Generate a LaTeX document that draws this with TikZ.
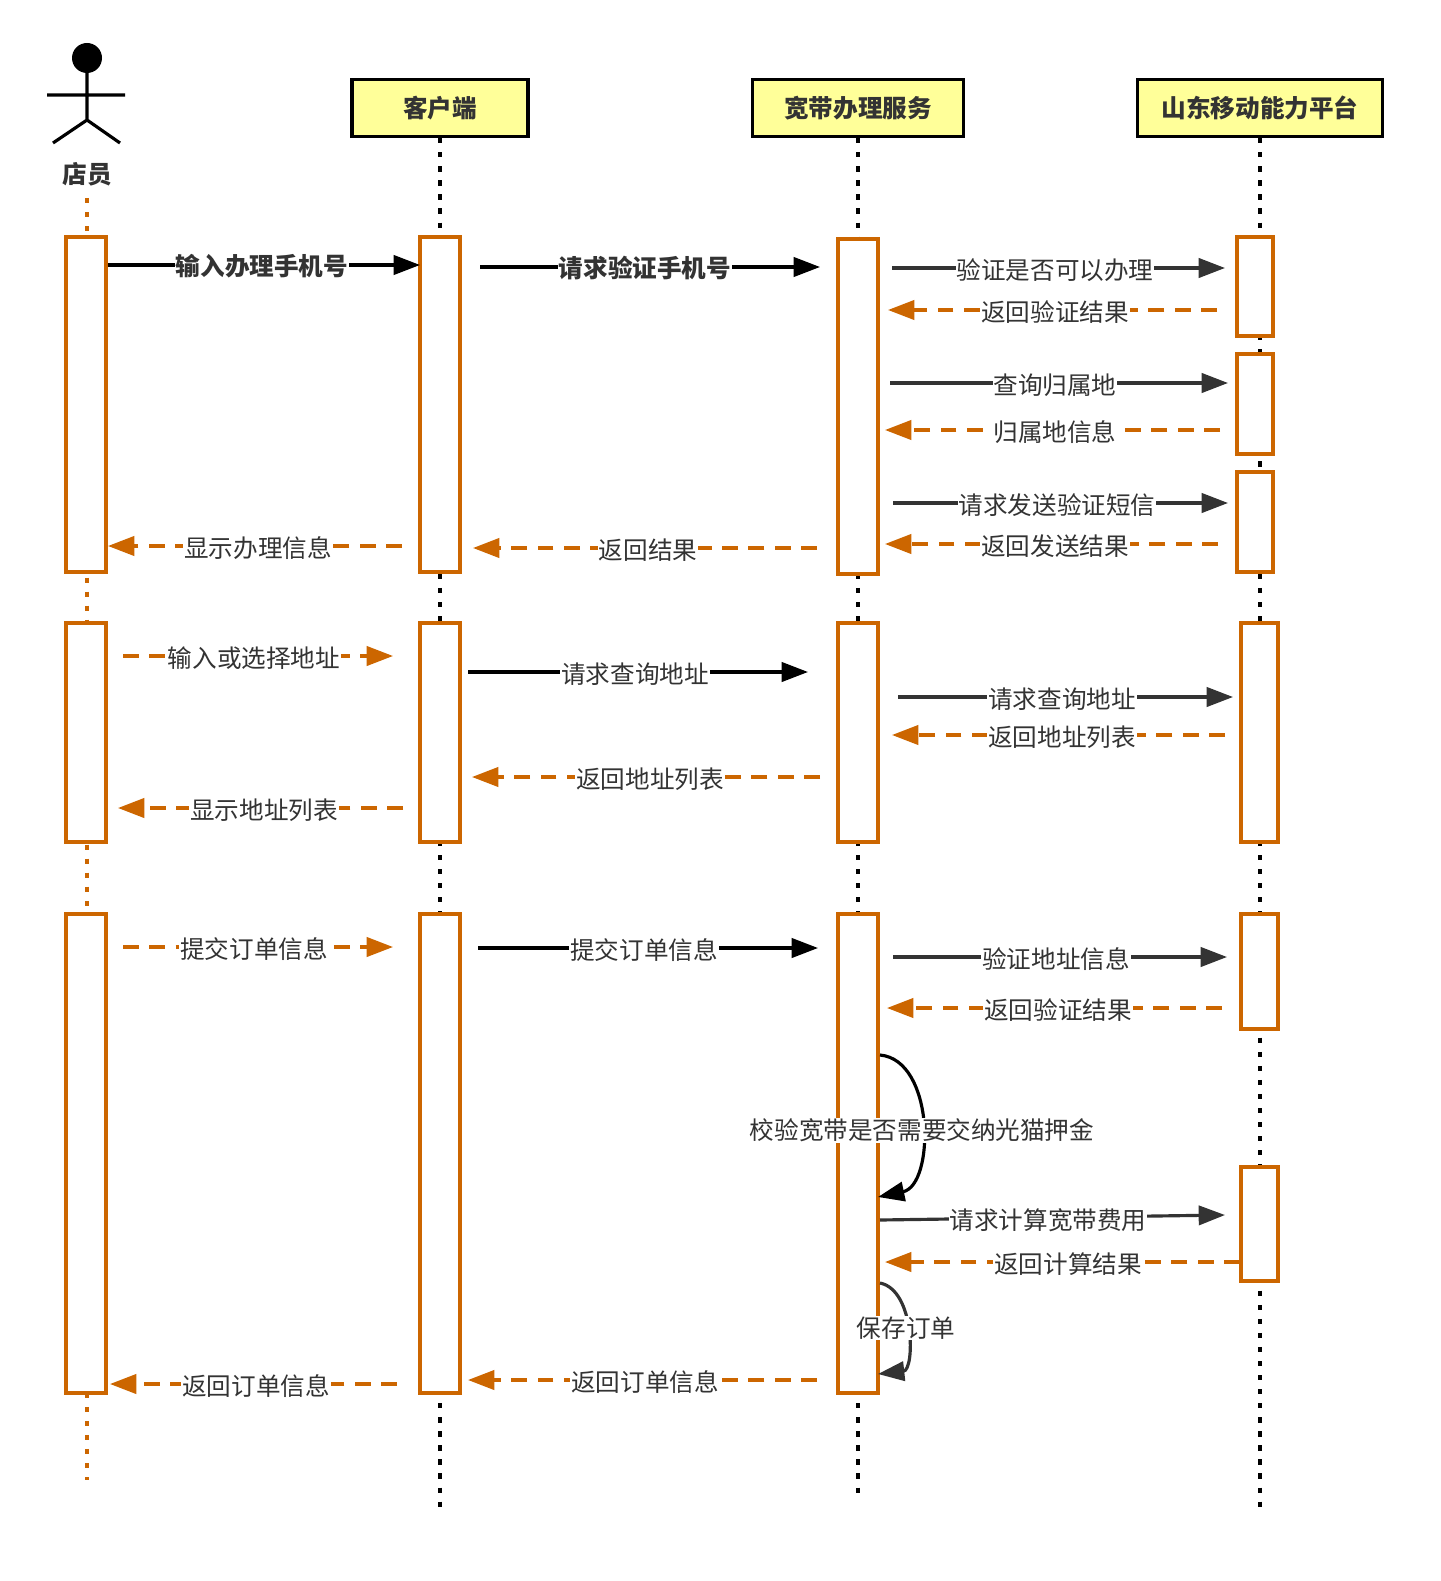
\documentclass[tikz,border=0pt]{standalone}
\usepackage{fontspec}
\setmainfont{Noto Sans CJK SC}
\usetikzlibrary{arrows.meta}
\definecolor{org}{HTML}{CC6600}
\definecolor{dk}{HTML}{333333}
\tikzset{
 act/.style={draw=org,line width=1.9pt,fill=white},
 head/.style={draw=black,line width=1.9pt,fill={rgb,255:red,255;green,255;blue,153},font=\bfseries\fontsize{14}{16}\selectfont,text=dk},
 life/.style={line width=1.9pt,dash pattern=on 3pt off 5pt},
 msg/.style={line width=1.8pt,draw=black,-{Triangle[length=15pt,width=11pt]}},
 msgg/.style={line width=1.8pt,draw=dk,-{Triangle[length=15pt,width=11pt]}},
 ret/.style={line width=1.8pt,draw=org,dash pattern=on 9pt off 6pt,-{Triangle[length=15pt,width=11pt,fill=org]}},
 lbl/.style={fill=white,inner sep=0.5pt,text=dk,font=\fontsize{14}{16}\selectfont},
 blbl/.style={lbl,font=\bfseries\fontsize{14}{16}\selectfont},
}
\begin{document}
\begin{tikzpicture}[x=0.02cm,y=-0.02cm]
\useasboundingbox (0,0) rectangle (1440,1581);
% actor
\fill (87,58) circle (15);
\draw[line width=1.8pt] (87,58)--(87,122) (47,95)--(125,95) (53,143)--(87,120)--(120,143);
\node[font=\bfseries\fontsize{14}{16}\selectfont,text=dk] (actor) at (87,174) {店员};
% headers
\node[head,minimum width=176*0.02cm,minimum height=57*0.02cm] (cli) at (440,108) {客户端};
\node[head,minimum width=211*0.02cm,minimum height=57*0.02cm] (bb) at (858,108) {宽带办理服务};
\node[head,minimum width=245*0.02cm,minimum height=57*0.02cm] (pf) at (1260,108) {山东移动能力平台};
% lifelines
\coordinate (aend) at (87,1480);
\coordinate (cend) at (440,1515);
\coordinate (bend) at (858,1500);
\coordinate (pend) at (1260,1515);
\draw[life,draw=org] (87,198)--(aend);
\draw[life] (cli.south)--(cend);
\draw[life] (bb.south)--(bend);
\draw[life] (pf.south)--(pend);
% activations
\foreach \x in {86,440} {
 \draw[act] (\x-20,237) rectangle (\x+20,572);
 \draw[act] (\x-20,623) rectangle (\x+20,842);
 \draw[act] (\x-20,914) rectangle (\x+20,1393);}
\draw[act] (838,239) rectangle (878,574);
\draw[act] (838,623) rectangle (878,842);
\draw[act] (838,914) rectangle (878,1393);
\draw[act] (1237,237) rectangle (1273,336);
\draw[act] (1237,354) rectangle (1273,454);
\draw[act] (1237,472) rectangle (1273,572);
\draw[act] (1241,623) rectangle (1278,842);
\draw[act] (1241,914) rectangle (1278,1029);
\draw[act] (1241,1167) rectangle (1278,1281);
% messages
\draw[msg] (108,265)--(420,265); \node[blbl] at (262,266) {输入办理手机号};
\draw[msg] (480,267)--(820,267); \node[blbl] at (645,268) {请求验证手机号};
\draw[msgg] (892,268)--(1225,268); \node[lbl] at (1055,270) {验证是否可以办理};
\draw[ret] (1217,310)--(888,310); \node[lbl] at (1055,312) {返回验证结果};
\draw[msgg] (890,383)--(1228,383); \node[lbl] at (1055,385) {查询归属地};
\draw[ret] (1220,430)--(885,430); \node[lbl] at (1055,432) {归属地信息};
\draw[msgg] (893,503)--(1228,503); \node[lbl] at (1057,505) {请求发送验证短信};
\draw[ret] (1218,544)--(885,544); \node[lbl] at (1055,546) {返回发送结果};
\draw[ret] (402,546)--(108,546); \node[lbl] at (258,548) {显示办理信息};
\draw[ret] (817,548)--(473,548); \node[lbl] at (648,550) {返回结果};
\draw[ret] (123,656)--(393,656); \node[lbl] at (254,658) {输入或选择地址};
\draw[msg] (468,672)--(808,672); \node[lbl] at (635,674) {请求查询地址};
\draw[msgg] (898,697)--(1233,697); \node[lbl] at (1062,699) {请求查询地址};
\draw[ret] (1225,735)--(892,735); \node[lbl] at (1062,737) {返回地址列表};
\draw[ret] (820,777)--(472,777); \node[lbl] at (650,779) {返回地址列表};
\draw[ret] (403,808)--(118,808); \node[lbl] at (264,810) {显示地址列表};
\draw[ret] (123,947)--(393,947); \node[lbl] at (254,949) {提交订单信息};
\draw[msg] (478,948)--(818,948); \node[lbl] at (644,950) {提交订单信息};
\draw[msgg] (893,957)--(1227,957); \node[lbl] at (1056,959) {验证地址信息};
\draw[ret] (1222,1008)--(887,1008); \node[lbl] at (1058,1010) {返回验证结果};
\draw[line width=1.8pt,-{Triangle[length=15pt,width=11pt]}] (880,1055) .. controls (935,1060) and (935,1185) .. (878,1197);
\node[lbl] at (922,1130) {校验宽带是否需要交纳光猫押金};
\draw[msgg] (880,1220)--(1225,1215); \node[lbl] at (1048,1220) {请求计算宽带费用};
\draw[ret] (1240,1262)--(885,1262); \node[lbl] at (1068,1264) {返回计算结果};
\draw[line width=1.8pt,draw=dk,-{Triangle[length=15pt,width=11pt]}] (880,1283) .. controls (915,1290) and (915,1370) .. (878,1374);
\node[lbl] at (906,1328) {保存订单};
\draw[ret] (817,1380)--(468,1380); \node[lbl] at (645,1382) {返回订单信息};
\draw[ret] (397,1384)--(110,1384); \node[lbl] at (256,1386) {返回订单信息};
\end{tikzpicture}
\end{document}
